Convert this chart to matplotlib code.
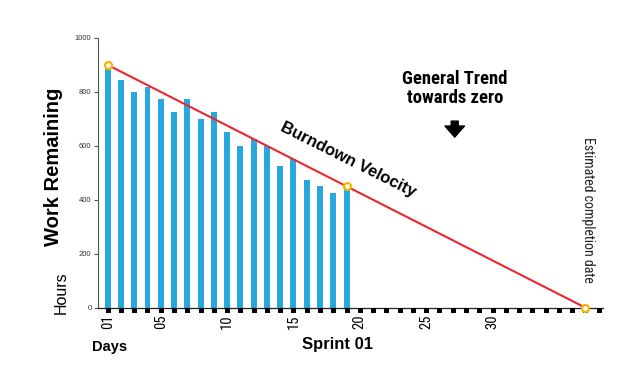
import matplotlib
matplotlib.use('Agg')
import matplotlib.pyplot as plt
from matplotlib import font_manager

# data
days = list(range(1, 20))
hours = [890, 845, 800, 820, 775, 725, 775, 700, 725, 650,
         600, 625, 600, 525, 550, 475, 450, 425, 450]
trend_days = [1, 19, 37]
trend_hours = [900, 450, 0]
tick_days = [1, 5, 10, 15, 20, 25, 30]
tick_labels = ['01', '05', '10', '15', '20', '25', '30']
y_ticks = [0, 200, 400, 600, 800, 1000]
axis_days = list(range(1, 39))

names = {f.name for f in font_manager.fontManager.ttflist}
narrow = None
for cand in ['Liberation Sans Narrow', 'Roboto Condensed',
             'DejaVu Sans Condensed', 'Open Sans Condensed']:
    if cand in names:
        narrow = cand
        break
plt.rcParams['font.family'] = ['Liberation Sans', 'DejaVu Sans']
cond = [narrow, 'Liberation Sans'] if narrow else ['Liberation Sans']
shrink = 1.0 if narrow else 0.88

fig = plt.figure(figsize=(6.4, 3.67), dpi=100)
ax = fig.add_axes([0.1527, 0.1616, 0.789, 0.735])

ax.bar(days, hours, width=0.45, color='#29a8e0', zorder=2)
ax.plot(trend_days, trend_hours, color='#ec2630', lw=1.5, zorder=3)
ax.plot(trend_days, trend_hours, 'o', ms=5, mfc='white', mec='#f7b500',
        mew=1.6, zorder=6, clip_on=False)

# dashed looking x axis: thin line with square blocks hanging below
ax.plot([0.25, 38.3], [0, 0], color='#222222', lw=0.9, zorder=4,
        clip_on=False)
ax.plot(axis_days, [-8] * len(axis_days), 's', color='black', ms=3.6,
        mew=0, zorder=5, clip_on=False)

ax.set_xlim(0.25, 38.3)
ax.set_ylim(0, 1000)
for s in ['top', 'right', 'bottom']:
    ax.spines[s].set_visible(False)
ax.spines['left'].set_color('#555555')
ax.spines['left'].set_linewidth(0.8)

ax.set_yticks(y_ticks)
ax.set_yticklabels([str(v) for v in y_ticks])
ax.tick_params(axis='y', length=3, width=0.8, color='#555555', pad=1.5,
               labelsize=5.5, labelcolor='#333333')
ax.set_xticks(tick_days)
ax.set_xticklabels(tick_labels, rotation=90, family=cond,
                   fontsize=10.5 * shrink)
ax.tick_params(axis='x', length=0, pad=5)

# annotations
ax.text(19.1, 548, 'Burndown Velocity', rotation=-26.6, ha='center',
        va='center', fontsize=12, fontweight='bold', rotation_mode='anchor')
ax.text(27.15, 813, 'General Trend\ntowards zero', ha='center',
        va='center', family=cond, fontweight='bold',
        fontsize=13.4 * shrink, linespacing=1.05)
ax.annotate('', xy=(27.15, 622), xytext=(27.15, 702),
            arrowprops=dict(arrowstyle='simple,head_width=1.4,'
                            'head_length=0.8,tail_width=0.5',
                            color='black'))
ax.text(37.17, 362, 'Estimated completion date', rotation=-90,
        ha='center', va='center', fontsize=10, family=cond, color='#222222')

fig.text(53.5 / 640, 1 - 167 / 367, 'Work Remaining', rotation=90,
         ha='center', va='center', fontsize=14.5, fontweight='bold')
fig.text(61 / 640, 1 - 293 / 367, 'Hours', rotation=90, ha='center',
         va='center', fontsize=11.5)
fig.text(110 / 640, 1 - 346.7 / 367, 'Days', ha='center', va='center',
         fontsize=10.5, fontweight='bold')
fig.text(337 / 640, 1 - 345 / 367, 'Sprint 01', ha='center', va='center',
         fontsize=12, fontweight='bold')

fig.savefig('out.png', dpi=100)
